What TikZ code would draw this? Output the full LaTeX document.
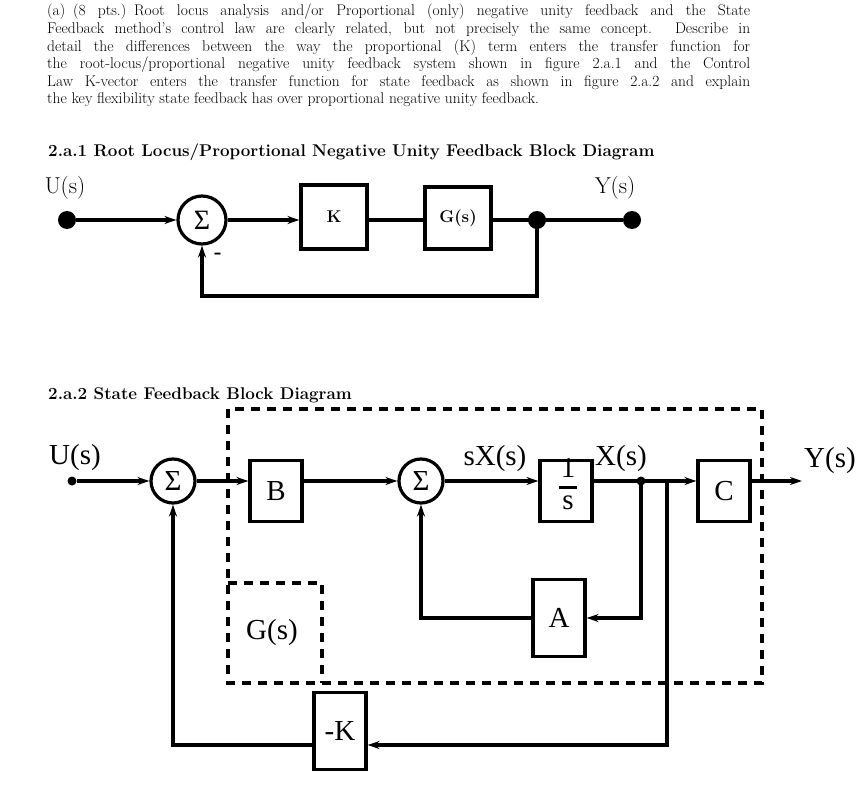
\documentclass[tikz,border=0pt]{standalone}
\usepackage{fontspec}
\newfontfamily\tms{Liberation Serif}
\usetikzlibrary{arrows.meta}
\begin{document}
\begin{tikzpicture}[x=1pt,y=-1pt,
  ln/.style={line width=3.2pt},
  arr/.style={ln,-{Stealth[length=12pt,width=8pt]}},
  blk/.style={draw,line width=3.2pt,inner sep=0pt},
  tblk/.style={blk,minimum width=66pt,minimum height=64pt,font=\fontsize{17}{17}\selectfont\bfseries},
  sum/.style={draw,circle,line width=3.2pt,minimum size=44pt,inner sep=0pt},
  dot/.style={circle,fill,inner sep=0pt,minimum size=#1},
  dsh/.style={line width=3.5pt,dash pattern=on 9pt off 7pt},
  big/.style={font=\tms\fontsize{29}{29}\selectfont}]
\useasboundingbox (0,0) rectangle (860,789);
\node[anchor=north west,inner sep=0pt,font=\fontsize{15.5}{17.6}\selectfont,align=justify] (txt) at (47,4)
{\parbox{703pt}{(a)\enspace (8 pts.)\enspace Root locus analysis and/or Proportional (only) negative unity feedback and the State\linebreak
Feedback method's control law are clearly related, but not precisely the same concept. Describe in\linebreak
detail the differences between the way the proportional (K) term enters the transfer function for\linebreak
the root-locus/proportional negative unity feedback system shown in figure 2.a.1 and the Control\linebreak
Law K-vector enters the transfer function for state feedback as shown in figure 2.a.2 and explain\linebreak
the key flexibility state feedback has over proportional negative unity feedback.}};
\node[anchor=west,inner sep=0pt,font=\fontsize{17}{18}\selectfont\bfseries] (h1) at (48,152) {2.a.1 Root Locus/Proportional Negative Unity Feedback Block Diagram};
\node[anchor=west,inner sep=0pt,font=\fontsize{17}{18}\selectfont\bfseries] (h2) at (48,395) {2.a.2 State Feedback Block Diagram};
% top diagram
\node[dot=18pt] (u1) at (67,220) {};
\node[font=\fontsize{23}{23}\selectfont] (u1l) at (65,188) {U(s)};
\node[sum,minimum width=48pt,font=\tms\fontsize{28}{28}\selectfont] (s1) at (202,220) {Σ};
\node[tblk] (k1) at (334,217) {K};
\node[tblk,minimum height=62pt] (g1) at (458,218) {G(s)};
\node[dot=18pt] (j1) at (537,220) {};
\node[dot=18pt] (y1) at (632,220) {};
\node[font=\fontsize{23}{23}\selectfont] (y1l) at (615,188) {Y(s)};
\draw[arr] (u1) -- (s1);
\draw[arr] (s1) -- (s1 -| k1.west);
\draw[ln] (k1.east |- 0,220) -- (g1.west |- 0,220);
\draw[ln] (g1.east |- 0,220) -- (y1);
\draw[arr] (j1.center) -- (537,296) -| (s1.south);
\node[font=\fontsize{20}{20}\selectfont\bfseries] (m1) at (218,256) {-};
% bottom diagram
\begin{scope}[big]
\node[dot=9pt] (u2) at (72,481) {};
\node (u2l) at (75,458) {U(s)};
\node[sum] (sa) at (173,481) {Σ};
\node[blk,minimum width=52pt,minimum height=61pt] (b) at (276,491) {B};
\node[sum] (sb) at (421,481) {Σ};
\node[blk,minimum width=52pt,minimum height=61pt,align=center] (is) at (566,491) {};
\node[inner sep=0pt] (one) at (568,468) {1};
\draw[line width=3pt] (559,487) -- (577,487);
\node[inner sep=0pt] (ss) at (568,503) {s};
\node (sxl) at (495,459) {sX(s)};
\node (xl) at (621,459) {X(s)};
\node[dot=9pt] (j2) at (641,481) {};
\node[blk,minimum width=52pt,minimum height=61pt] (c) at (724,491) {C};
\node (yl) at (830,461) {Y(s)};
\coordinate (yo) at (802,481);
\node[blk,minimum width=52pt,minimum height=77pt] (a) at (559,618) {A};
\node[blk,minimum width=52pt,minimum height=77pt] (mk) at (340,731) {-K};
\node (gl) at (272,633) {G(s)};
\draw[arr] (u2) -- (sa);
\draw[arr] (sa) -- (sa -| b.west);
\draw[arr] (b.east |- 0,481) -- (sb);
\draw[arr] (sb) -- (sb -| is.west);
\draw[ln] (is.east |- 0,481) -- (j2.center);
\draw[arr] (j2.center) -- (c.west |- 0,481);
\draw[arr] (c.east |- 0,481) -- (yo);
\draw[arr] (j2.center) |- (a.east);
\draw[arr] (a.west) -| (sb.south);
\draw[arr] (667,481) |- (mk.east |- 0,745);
\draw[arr] (mk.west |- 0,745) -| (sa.south);
\draw[dsh] (228,409) rectangle (762,683);
\draw[dsh] (228,583) -- (322,583) -- (322,683);
\end{scope}
\end{tikzpicture}
\end{document}
